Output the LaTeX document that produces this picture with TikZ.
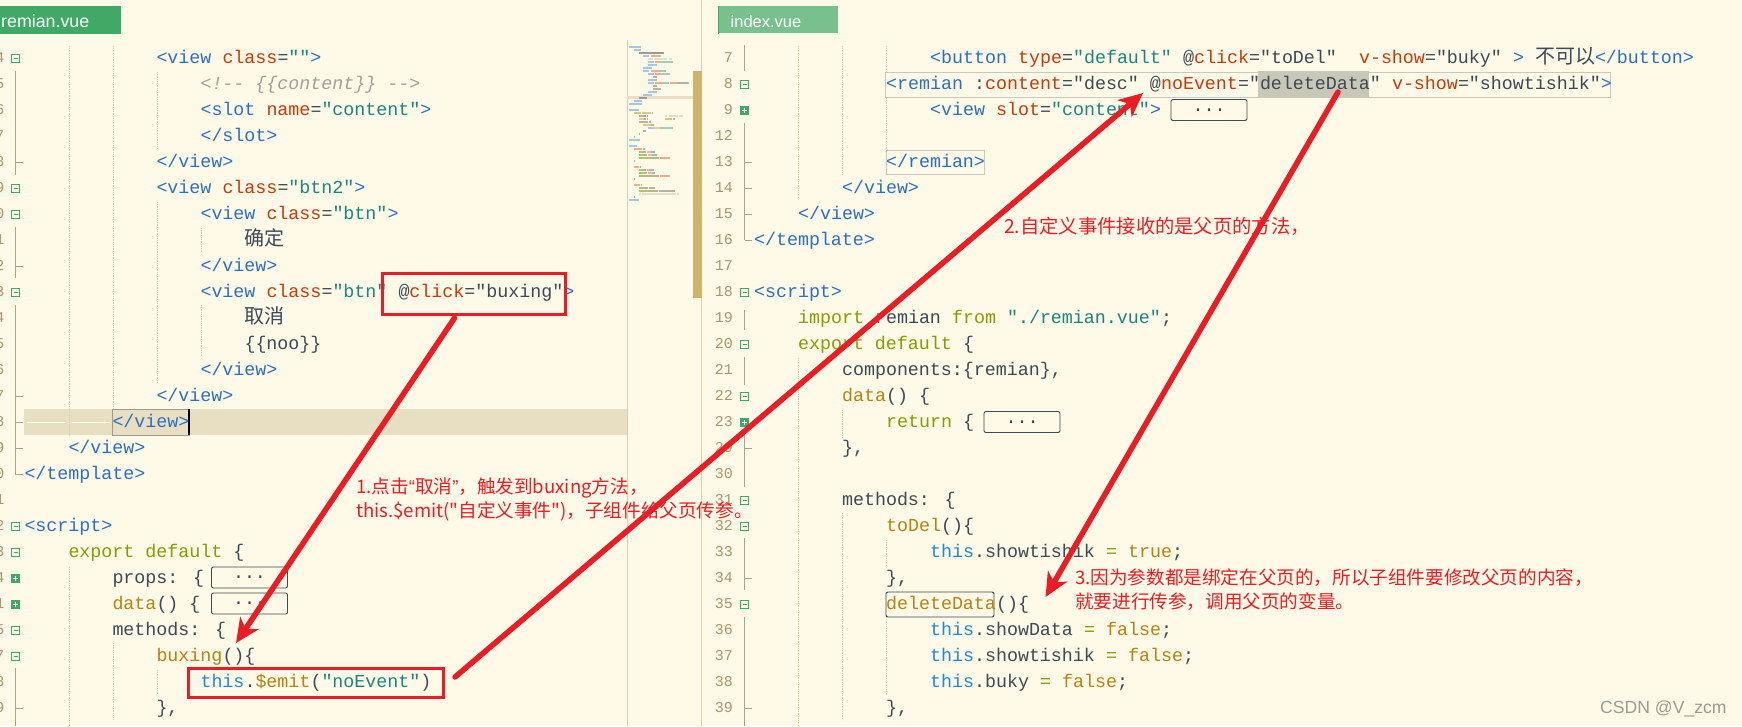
\documentclass[tikz,border=0pt]{standalone}
\usepackage{fontspec}
\setmainfont{Liberation Sans}
\newfontfamily\codefont{Liberation Mono}
\newfontfamily\cjkfont{Noto Sans CJK SC}
\usetikzlibrary{arrows.meta}

\definecolor{paper}{HTML}{FFF9E8}
\definecolor{tagblue}{HTML}{2B6FC4}
\definecolor{attrred}{HTML}{C93A0A}
\definecolor{strteal}{HTML}{17877D}
\definecolor{kwolive}{HTML}{8A9A00}
\definecolor{fngold}{HTML}{B5830F}
\definecolor{thisblue}{HTML}{1E8AD6}
\definecolor{plain}{HTML}{3B4A54}
\definecolor{comment}{HTML}{A0A09A}
\definecolor{numtan}{HTML}{A9966C}
\definecolor{foldgreen}{HTML}{3FA965}
\definecolor{guide}{HTML}{D9CFA8}
\definecolor{linehl}{HTML}{E8DFC2}
\definecolor{scrollgold}{HTML}{CDB46A}
\definecolor{markred}{HTML}{ED1C24}
\definecolor{wordhl}{HTML}{C9C7B8}
\definecolor{mmblue}{HTML}{A9C4E4}
\definecolor{mmsalmon}{HTML}{F0AC8C}
\definecolor{mmteal}{HTML}{A2CDBB}
\definecolor{mmgray}{HTML}{B5B2A6}
\definecolor{mmdark}{HTML}{9C9A92}
\definecolor{mmpale}{HTML}{E2E0CC}
\definecolor{mmolive}{HTML}{C8CE84}
\definecolor{mmtan}{HTML}{E6C98C}
\definecolor{mmpink}{HTML}{EFB0C0}
\definecolor{mmgreen}{HTML}{B4BE7A}

\newcommand{\tagc}[1]{\textcolor{tagblue}{#1}}
\newcommand{\attrc}[1]{\textcolor{attrred}{#1}}
\newcommand{\strc}[1]{\textcolor{strteal}{#1}}
\newcommand{\kwc}[1]{\textcolor{kwolive}{#1}}
\newcommand{\fnc}[1]{\textcolor{fngold}{#1}}
\newcommand{\thisc}[1]{\textcolor{thisblue}{#1}}
\newcommand{\foldminus}[2]{
	\draw[foldgreen,line width=0.9pt] (#1-4,#2-4) rectangle (#1+4,#2+4);
	\draw[foldgreen,line width=0.9pt] (#1-2,#2) -- (#1+2,#2);
}
\newcommand{\foldplus}[2]{
	\fill[foldgreen] (#1-4.5,#2-4.5) rectangle (#1+4.5,#2+4.5);
	\draw[white,line width=0.9pt] (#1-2.5,#2) -- (#1+2.5,#2);
	\draw[white,line width=0.9pt] (#1,#2-2.5) -- (#1,#2+2.5);
}

\tikzset{
	code/.style={anchor=base west,yshift=1pt,inner sep=0pt,outer sep=0pt,text=plain,font=\codefont\fontsize{18.33}{20}\selectfont},
	num/.style={anchor=base east,yshift=1pt,inner sep=0pt,text=numtan,font=\codefont\fontsize{15}{18}\selectfont},
	note/.style={anchor=base west,inner sep=0pt,text=markred,font=\cjkfont\fontsize{18.6}{20}\selectfont},
	foldbox/.style={draw=plain,rounded corners=2pt,line width=0.9pt,inner sep=0pt,minimum width=76pt,minimum height=21pt,text=plain,font=\codefont\fontsize{18.33}{20}\selectfont},
	redbox/.style={draw=markred,line width=3pt,inner sep=0pt},
	redarrow/.style={draw=markred,line width=5.5pt,line cap=round,-{Stealth[length=24pt,width=22pt,inset=7pt]}},
	dotguide/.style={guide,densely dotted,line width=0.8pt},
	foldline/.style={guide!80!black,line width=0.8pt},
}

\begin{document}
\begin{tikzpicture}[x=1pt,y=-1pt]
	\useasboundingbox (0,0) rectangle (1742,726);
	\fill[paper] (0,0) rectangle (1742,726);

	% tabs
	\fill[foldgreen] (0,6) rectangle (121,34);
	\node[anchor=base west,inner sep=0pt,text=white,font=\fontsize{17.8}{20}\selectfont] (lefttab) at (1,27) {remian.vue};
	\fill[foldgreen!70!paper] (718,6) rectangle (838,33);
	\draw[foldgreen] (718.5,6) -- (718.5,34);
	\node[anchor=base west,inner sep=0pt,text=white,font=\fontsize{16.5}{20}\selectfont] (righttab) at (730.5,27) {index.vue};

	% pane edges and scrollbar
	\draw[guide,line width=1pt] (627.5,40) -- (627.5,726);
	\draw[guide,line width=1pt] (701.5,0) -- (701.5,726);
	\fill[linehl] (24,409) rectangle (627,435);
	\fill[linehl] (627,96) rectangle (693,99);
	\fill[scrollgold] (693,71) rectangle (702,298);

	% minimap
	\foreach \c/\a/\b/\r in {mmblue/27/63/21,mmblue/42/63/30,mmdark/57/132/38,mmblue/69/87/47,mmsalmon/93/113/47,mmteal/113/123/47,
		mmpale/84/99/57,mmpale/102/141/57,mmpale/147/156/57,mmblue/84/102/66,mmsalmon/105/123/66,mmteal/123/159/66,mmblue/84/111/75,
		mmblue/69/96/84,mmblue/69/87/93,mmsalmon/93/113/93,mmteal/113/138/93,mmblue/84/102/102,mmsalmon/105/129/102,mmteal/129/150/102,
		mmgray/99/111/111,mmblue/84/111/120,mmblue/84/102/129,mmsalmon/105/129/129,mmteal/129/147/129,mmsalmon/150/171/129,mmgray/171/204/129,mmblue/204/207/129,
		mmgray/99/111/138,mmgray/99/123/147,mmblue/84/111/156,mmblue/69/96/165,mmdark/57/81/173,mmblue/42/66/183,mmblue/27/66/192,
		mmblue/27/57/210,mmolive/42/63/219,mmolive/66/93/219,mmgray/96/99/219,mmgray/57/78/228,mmgray/81/84/228,mmpale/135/141/228,mmpale/147/174/228,mmpale/177/189/228,
		mmtan/57/72/237,mmgray/72/78/237,mmgray/81/84/237,mmolive/135/156/237,mmgray/159/165/237,mmgray/57/84/246,mmgray/87/93/246,mmtan/69/93/255,mmgray/93/102/255,
		mmblue/84/102/264,mmtan/102/120/264,mmteal/120/159/264,mmgray/69/78/273,mmgray/57/60/282,mmgray/42/45/291,mmblue/27/60/300,
		mmblue/27/51/318,mmsalmon/42/66/327,mmgray/69/75/327,mmgreen/57/78/336,mmpink/81/93/336,mmgray/93/105/336,mmgreen/57/81/345,mmpink/84/96/345,mmgray/96/111/345,
		mmgreen/57/117/354,mmsalmon/120/150/354,mmgray/42/45/363,mmsalmon/42/57/381,mmgray/60/63/381,mmgreen/57/78/390,mmpink/81/87/390,mmgray/87/102/390,
		mmgreen/57/81/399,mmpink/84/96/399,mmgray/96/105/399,mmgreen/57/117/408,mmsalmon/120/150/408,mmgray/42/45/417,mmsalmon/42/60/435,mmgray/63/66/435,
		mmgreen/57/84/444,mmgray/87/105/444,mmgreen/57/114/453,mmgray/117/165/453,mmpale/57/63/462,mmpale/66/168/462,mmpale/171/177/462,mmgray/42/45/471,mmblue/27/57/480}{
		\fill[\c] ({620+\a/3},{40+\r/3-1.1}) rectangle ({620+\b/3},{40+\r/3+1.1});
	}

	% indent guides
	\foreach \x/\a/\b in {69.5/46/435,69.5/567/726,113.5/46/408,113.5/643/720,157/72/148,157/202/383,157/670/695,201/228/253,201/305/357,
		798/46/200,798/358/726,842/46/175,842/410/438,842/513/720,886/46/72,886/98/150,886/540/568,886/617/695}{
		\draw[dotguide] (\x,\a) -- (\x,\b);
	}

	% fold lines
	\foreach \x/\a/\b in {15.5/71/175,15.5/227/278,15.5/305/475,15.5/668/726,744.5/45/71,744.5/123/240,744.5/310/330,744.5/357/385,744.5/432/487,744.5/538/590,744.5/617/726}{
		\draw[foldline] (\x,\a) -- (\x,\b);
	}
	\foreach \x/\y in {15.5/162,15.5/266,15.5/396,15.5/422,15.5/448,15.5/474,15.5/708,744.5/162,744.5/188,744.5/214,744.5/240,744.5/448,744.5/578,744.5/708}{
		\draw[foldline] (\x,\y) -- (\x+7,\y);
	}
	\foreach \y in {58,188,214,292,526,552,630,656}{
		\foldminus{15.5}{\y}
	}
	\foreach \y in {578,604}{
		\foldplus{15.5}{\y}
	}
	\foreach \y in {84,292,344,396,500,526,604}{
		\foldminus{744.5}{\y}
	}
	\foreach \y in {110,422}{
		\foldplus{744.5}{\y}
	}

	% line numbers
	\foreach \n [count=\i from 0] in {4,5,6,7,8,9,0,1,2,3,4,5,6,7,8,9,0,1,2,3,4,1,5,7,8,9}{
		\node[num] (leftnum\i) at (4.5,{63+26*\i}) {\n};
	}
	\foreach \n [count=\i from 0] in {7,8,9,12,13,14,15,16,17,18,19,20,21,22,23,29,30,31,32,33,34,35,36,37,38,39}{
		\node[num] (rightnum\i) at (733,{63+26*\i}) {\n};
	}

	% highlights in the code
	\draw[mmdark,line width=0.7pt] (112.5,409) rectangle (189,435);
	\draw[white,line width=1pt] (27,422) -- (65,422);
	\draw[white,line width=1pt] (72,422) -- (110,422);
	\draw[black,line width=2pt] (189,409) -- (189,435);
	\fill[wordhl] (1258,71) rectangle (1369,97);
	\draw[mmgray!70!paper,line width=0.8pt] (885,72) rectangle (1610,97);
	\draw[mmgray!70!paper,line width=0.8pt] (886,150) rectangle (984,174);
	\draw[plain,rounded corners=2pt,line width=0.9pt] (886,592) rectangle (994,617);

	% left code
	\node[code] (viewa) at (156.5,64) {\tagc{<view} \attrc{class}=\strc{""}\tagc{>}};
	\node[code,text=comment] (contentnote) at (200.5,90) {\itshape <!-- \{\{content\}\} -->};
	\node[code] (slota) at (200.5,116) {\tagc{<slot} \attrc{name}=\strc{"content"}\tagc{>}};
	\node[code] (slotb) at (200.5,142) {\tagc{</slot>}};
	\node[code] (viewb) at (156.5,168) {\tagc{</view>}};
	\node[code] (viewc) at (156.5,194) {\tagc{<view} \attrc{class}=\strc{"btn2"}\tagc{>}};
	\node[code] (viewd) at (200.5,220) {\tagc{<view} \attrc{class}=\strc{"btn"}\tagc{>}};
	\node[code] (sure) at (244.5,246) {{\cjkfont\fontsize{20}{20}\selectfont 确定}};
	\node[code] (viewe) at (200.5,272) {\tagc{</view>}};
	\node[code] (viewf) at (200.5,298) {\tagc{<view} \attrc{class}=\strc{"btn"} @\attrc{click}="buxing"\tagc{>}};
	\node[code] (cancel) at (244.5,324) {{\cjkfont\fontsize{20}{20}\selectfont 取消}};
	\node[code] (noo) at (244.5,350) {\{\{noo\}\}};
	\node[code] (viewg) at (200.5,376) {\tagc{</view>}};
	\node[code] (viewh) at (156.5,402) {\tagc{</view>}};
	\node[code] (viewi) at (112.5,428) {\tagc{</view>}};
	\node[code] (viewj) at (68.5,454) {\tagc{</view>}};
	\node[code] (templatea) at (24.5,480) {\tagc{</template>}};
	\node[code] (scripta) at (24.5,532) {\tagc{<script>}};
	\node[code] (exporta) at (68.5,558) {\kwc{export default} \{};
	\node[code] (props) at (112.5,584) {props: \{};
	\node[foldbox] (propsdots) at (249.5,577.5) {...};
	\node[code] (dataa) at (112.5,610) {\fnc{data}() \{};
	\node[foldbox] (datadots) at (249.5,603.5) {...};
	\node[code] (methodsa) at (112.5,636) {methods: \{};
	\node[code] (buxing) at (156.5,662) {\fnc{buxing}()\{};
	\node[code] (emit) at (200.5,688) {\thisc{this}.\fnc{\$emit}(\strc{"noEvent"})};
	\node[code] (closea) at (156.5,714) {\},};

	% right code
	\node[code] (button) at (930,64) {\tagc{<button} \attrc{type}=\strc{"default"} @\attrc{click}="toDel"\ \ \attrc{v-show}="buky" \tagc{>} {\cjkfont\fontsize{20}{20}\selectfont 不可以}\tagc{</button>}};
	\node[code] (remiana) at (886,90) {\tagc{<remian} :\attrc{content}="desc" @\attrc{noEvent}="deleteData" \attrc{v-show}="showtishik"\tagc{>}};
	\node[code] (slotview) at (930,116) {\tagc{<view} \attrc{slot}=\strc{"content"}\tagc{>}};
	\node[foldbox] (slotdots) at (1209,110) {...};
	\node[code] (remianb) at (886,168) {\tagc{</remian>}};
	\node[code] (viewk) at (842,194) {\tagc{</view>}};
	\node[code] (viewl) at (798,220) {\tagc{</view>}};
	\node[code] (templateb) at (754,246) {\tagc{</template>}};
	\node[code] (scriptb) at (754,298) {\tagc{<script>}};
	\node[code] (importa) at (798,324) {\kwc{import} remian \kwc{from} \strc{"./remian.vue"};};
	\node[code] (exportb) at (798,350) {\kwc{export default} \{};
	\node[code] (components) at (842,376) {components:\{remian\},};
	\node[code] (datab) at (842,402) {\fnc{data}() \{};
	\node[code] (returna) at (886,428) {\kwc{return} \{};
	\node[foldbox] (returndots) at (1022,422) {...};
	\node[code] (closeb) at (842,454) {\},};
	\node[code] (methodsb) at (842,506) {methods: \{};
	\node[code] (todel) at (886,532) {\fnc{toDel}()\{};
	\node[code] (showa) at (930,558) {\thisc{this}.showtishik \kwc{=} \fnc{true};};
	\node[code] (closec) at (886,584) {\},};
	\node[code] (deletedata) at (886,610) {\fnc{deleteData}()\{};
	\node[code] (showb) at (930,636) {\thisc{this}.showData \kwc{=} \fnc{false};};
	\node[code] (showc) at (930,662) {\thisc{this}.showtishik \kwc{=} \fnc{false};};
	\node[code] (bukya) at (930,688) {\thisc{this}.buky \kwc{=} \fnc{false};};
	\node[code] (closed) at (886,714) {\},};

	% red boxes
	\draw[redbox] (382,273) rectangle (565.5,314);
	\draw[redbox] (188,668) rectangle (443,697);

	% notes
	\node[note] (notea) at (356,493) {1.点击{\rmfamily “}取消{\rmfamily ”}，触发到buxing方法，};
	\node[note] (noteb) at (356,517) {this.\$emit("自定义事件")，子组件给父页传参。};
	\node[note,font=\cjkfont\fontsize{19.3}{20}\selectfont] (notec) at (1004,233) {2.自定义事件接收的是父页的方法，};
	\node[note] (noted) at (1075,584) {3.因为参数都是绑定在父页的，所以子组件要修改父页的内容，};
	\node[note] (notee) at (1075,608) {就要进行传参，调用父页的变量。};
	\node[anchor=base west,inner sep=0pt,text=mmdark,font=\fontsize{17.6}{20}\selectfont] (mark) at (1600,713) {CSDN @V\_zcm};

	% arrows
	\coordinate (arrowastart) at (454.5,318);
	\coordinate (arrowaend) at (236,643);
	\coordinate (arrowbstart) at (455,677);
	\coordinate (arrowbend) at (1143,93);
	\coordinate (arrowcstart) at (1338,92);
	\coordinate (arrowcend) at (1045.5,597);
	\draw[redarrow] (arrowastart) -- (arrowaend);
	\draw[redarrow] (arrowbstart) -- (arrowbend);
	\draw[redarrow] (arrowcstart) -- (arrowcend);
\end{tikzpicture}
\end{document}
